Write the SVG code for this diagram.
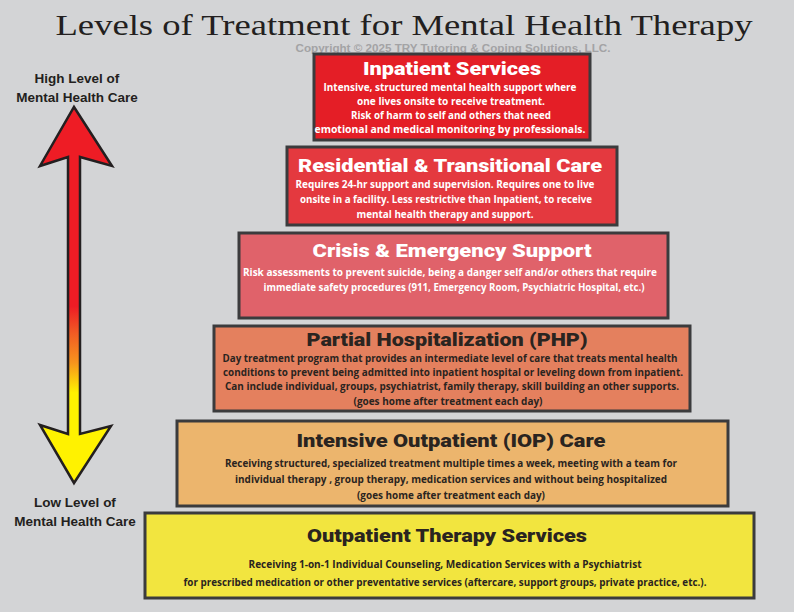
<svg xmlns="http://www.w3.org/2000/svg" width="794" height="612" viewBox="0 0 794 612">
<defs>
<linearGradient id="arrowGrad" gradientUnits="userSpaceOnUse" x1="0" y1="107" x2="0" y2="483">
<stop offset="0" stop-color="#ee1c25"/>
<stop offset="0.53" stop-color="#ee1c25"/>
<stop offset="0.6" stop-color="#f15a24"/>
<stop offset="0.68" stop-color="#f7941d"/>
<stop offset="0.76" stop-color="#fff200"/>
<stop offset="1" stop-color="#fff200"/>
</linearGradient>
<style>
.box{stroke:#3b3b3d;stroke-width:3}
.head{font-family:Roboto,"Liberation Sans",Arial,sans-serif;font-weight:900;font-size:19px;text-anchor:middle}
.body{font-family:"Open Sans","Liberation Sans",Arial,sans-serif;font-weight:700;font-size:11px;text-anchor:middle}
.light{fill:#ffffff}
.dark{fill:#2a2420}
.side{font-family:"Liberation Sans",Arial,sans-serif;font-weight:700;font-size:13.5px;fill:#231f20;text-anchor:middle}
</style>
</defs>
<rect x="0" y="0" width="794" height="612" fill="#d3d4d6"/>
<text x="404" y="35" font-family="'Liberation Serif','Times New Roman',serif" font-size="30" fill="#231f20" text-anchor="middle" textLength="697" lengthAdjust="spacingAndGlyphs">Levels of Treatment for Mental Health Therapy</text>
<text x="453" y="52" font-family="'Liberation Sans',Arial,sans-serif" font-weight="700" font-size="10" fill="#a3a3a5" text-anchor="middle" textLength="315" lengthAdjust="spacingAndGlyphs">Copyright © 2025 TRY Tutoring &amp; Coping Solutions, LLC.</text>

<g id="scale">
<path d="M74,107 L112,166 L80,157 L80,434 L111,426 L74,483 L40,425 L68,434 L68,157 L40,166 Z" fill="url(#arrowGrad)" stroke="#231f20" stroke-width="2.5" stroke-linejoin="miter"/>
<text class="side" x="77" y="83">High Level of</text>
<text class="side" x="77" y="102">Mental Health Care</text>
<text class="side" x="75" y="507">Low Level of</text>
<text class="side" x="75" y="526">Mental Health Care</text>
</g>

<g id="inpatient">
<rect class="box" x="314" y="54" width="276" height="86" fill="#e41e26"/>
<text class="head light" x="452" y="75" textLength="178" lengthAdjust="spacingAndGlyphs">Inpatient Services</text>
<text class="body light" x="450" y="91" textLength="253" lengthAdjust="spacingAndGlyphs">Intensive, structured mental health support where</text>
<text class="body light" x="451" y="105" textLength="188" lengthAdjust="spacingAndGlyphs">one lives onsite to receive treatment.</text>
<text class="body light" x="451" y="119" textLength="200" lengthAdjust="spacingAndGlyphs">Risk of harm to self and others that need</text>
<text class="body light" x="450" y="133" textLength="271" lengthAdjust="spacingAndGlyphs">emotional and medical monitoring by professionals.</text>
</g>

<g id="residential">
<rect class="box" x="287" y="147" width="330" height="78" fill="#e4393f"/>
<text class="head light" x="450" y="172" textLength="304" lengthAdjust="spacingAndGlyphs">Residential &amp; Transitional Care</text>
<text class="body light" x="445" y="188" textLength="299" lengthAdjust="spacingAndGlyphs">Requires 24-hr support and supervision. Requires one to live</text>
<text class="body light" x="446" y="203" textLength="292" lengthAdjust="spacingAndGlyphs">onsite in a facility. Less restrictive than Inpatient, to receive</text>
<text class="body light" x="445" y="218" textLength="177" lengthAdjust="spacingAndGlyphs">mental health therapy and support.</text>
</g>

<g id="crisis">
<rect class="box" x="239" y="233" width="429" height="85" fill="#e0626a"/>
<text class="head light" x="452" y="257" textLength="279" lengthAdjust="spacingAndGlyphs">Crisis &amp; Emergency Support</text>
<text class="body light" x="450" y="276" textLength="414" lengthAdjust="spacingAndGlyphs">Risk assessments to prevent suicide, being a danger self and/or others that require</text>
<text class="body light" x="454" y="291" textLength="381" lengthAdjust="spacingAndGlyphs">immediate safety procedures (911, Emergency Room, Psychiatric Hospital, etc.)</text>
</g>

<g id="php">
<rect class="box" x="214" y="326" width="476" height="85" fill="#e4805e"/>
<text class="head dark" x="447" y="346" textLength="281" lengthAdjust="spacingAndGlyphs">Partial Hospitalization (PHP)</text>
<text class="body dark" x="450" y="362" textLength="455" lengthAdjust="spacingAndGlyphs">Day treatment program that provides an intermediate level of care that treats mental health</text>
<text class="body dark" x="453" y="376" textLength="460" lengthAdjust="spacingAndGlyphs">conditions to prevent being admitted into inpatient hospital or leveling down from inpatient.</text>
<text class="body dark" x="452" y="390" textLength="454" lengthAdjust="spacingAndGlyphs">Can include individual, groups, psychiatrist, family therapy, skill building an other supports.</text>
<text class="body dark" x="448" y="405" textLength="189" lengthAdjust="spacingAndGlyphs">(goes home after treatment each day)</text>
</g>

<g id="iop">
<rect class="box" x="177" y="421" width="551" height="85" fill="#ecb56d"/>
<text class="head dark" x="451" y="447" textLength="309" lengthAdjust="spacingAndGlyphs">Intensive Outpatient (IOP) Care</text>
<text class="body dark" x="451" y="467" textLength="452" lengthAdjust="spacingAndGlyphs">Receiving structured, specialized treatment multiple times a week, meeting with a team for</text>
<text class="body dark" x="451" y="483" textLength="432" lengthAdjust="spacingAndGlyphs">individual therapy , group therapy, medication services and without being hospitalized</text>
<text class="body dark" x="451" y="499" textLength="188" lengthAdjust="spacingAndGlyphs">(goes home after treatment each day)</text>
</g>

<g id="outpatient">
<rect class="box" x="145" y="513" width="609" height="85" fill="#f2e53f"/>
<text class="head dark" x="447" y="542" textLength="280" lengthAdjust="spacingAndGlyphs">Outpatient Therapy Services</text>
<text class="body dark" x="445" y="568" textLength="393" lengthAdjust="spacingAndGlyphs">Receiving 1-on-1 Individual Counseling, Medication Services with a Psychiatrist</text>
<text class="body dark" x="445" y="586" textLength="523" lengthAdjust="spacingAndGlyphs">for prescribed medication or other preventative services (aftercare, support groups, private practice, etc.).</text>
</g>

<g id="connectors"></g>
</svg>
